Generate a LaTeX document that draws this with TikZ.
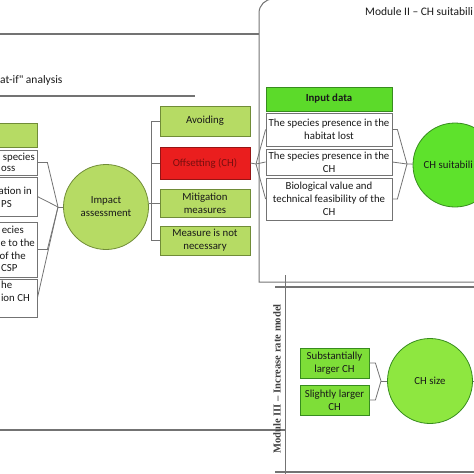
\documentclass[tikz,border=0pt]{standalone}
\usepackage{fontspec}
\setmainfont{Carlito}[Ligatures=TeXOff]
\newfontfamily\serifbf{Liberation Serif}[BoldFont={Liberation Serif Bold}]
\usepackage{tikz}
\usetikzlibrary{positioning,calc}

\definecolor{lineg}{RGB}{115,115,115}
\definecolor{oliv}{RGB}{182,219,100}
\definecolor{olivd}{RGB}{112,140,55}
\definecolor{redbox}{RGB}{234,30,30}
\definecolor{redd}{RGB}{150,20,20}
\definecolor{redtxt}{RGB}{120,15,15}
\definecolor{brightg}{RGB}{92,218,42}
\definecolor{brightgd}{RGB}{55,140,30}
\definecolor{suitg}{RGB}{94,226,44}
\definecolor{sizeg}{RGB}{142,231,64}
\definecolor{midg}{RGB}{126,222,56}

\begin{document}
\begin{tikzpicture}[
  x=1pt,y=-1pt,
  font=\fontsize{10.8}{13}\selectfont,
  line/.style={draw=lineg,line width=0.8pt},
  rule/.style={draw=lineg,line width=1.4pt},
  box/.style={draw,minimum width=90pt,align=center,inner sep=0pt,line width=0.8pt,text=black!90},
  opt/.style={box,fill=oliv,draw=olivd},
  inbox/.style={box,fill=white,draw=lineg,minimum width=126pt},
  leftbox/.style={box,fill=white,draw=lineg,minimum width=47pt},
  frag/.style={anchor=east,inner sep=0pt,text=black!90},
  fragl/.style={anchor=west,inner sep=0pt,text=black!90},
  blob/.style={circle,draw,inner sep=0pt,minimum size=85pt,align=center,line width=0.8pt,text=black!90},
  title/.style={anchor=west,inner sep=0pt,text=black!90,font=\fontsize{11.5}{13}\selectfont},
]
\useasboundingbox (0,0) rectangle (474,474);
\clip (0,0) rectangle (474,474);

% frame lines and module titles
\draw[rule] (0,34) -- (259,34);
\draw[rule] (0,96) -- (195,96);
\node[title] (whatif) at (0,80) {at-if" analysis};
\draw[line,line width=1pt] (490,282) -- (259,282) [rounded corners=14pt] -- (259,-1) -- (490,-1);
\node[title] (modII) at (365,12) {Module II – CH suitabili};
\draw[rule,line width=1.2pt] (275,287) -- (480,287);
\draw[rule,line width=1.2pt] (275,472) -- (480,472);
\draw[line,line width=1pt] (285,275) -- (285,480);
\draw[rule] (0,430) -- (285,430);
\node[rotate=90,inner sep=0pt,font=\serifbf\bfseries\fontsize{10.6}{12}\selectfont,text=black!75] (modIII) at (277,379) {Module III – Increase rate model};

% Module I: input list (cut on the left)
\node[leftbox,fill=oliv,draw=olivd,minimum height=24pt] (hdL) at (13.5,135) {};
\node[leftbox,minimum height=25pt] (lb1) at (13.5,162.5) {};
\node[leftbox,minimum height=39pt] (lb2) at (13.5,196.5) {};
\node[leftbox,minimum height=55pt] (lb3) at (13.5,249.5) {};
\node[leftbox,minimum height=38pt] (lb4) at (13.5,298) {};
\node[frag] (t1a) at (35,158) {species};
\node[fragl] (t1b) at (1,169) {oss};
\node[frag] (t2a) at (32,191) {ation in};
\node[fragl] (t2b) at (1,204) {PS};
\node[frag] (t3a) at (24,230) {ecies};
\node[frag] (t3b) at (35,243) {e to the};
\node[frag] (t3c) at (26,256) {of the};
\node[fragl] (t3d) at (1,268) {CSP};
\node[fragl] (t4a) at (1,285) {he};
\node[frag] (t4b) at (30,298) {ion CH};

% Impact assessment and measures
\node[blob,fill=oliv,draw=olivd] (imp) at (106,207) {Impact\\assessment};
\coordinate (lj) at (58,207);
\draw[line] (lb1.east) -- ++(10,0) -- (lj);
\draw[line] (lb2.east) -- (lj);
\draw[line] (lb3.east) -- ++(10,0) -- (lj);
\draw[line] (lb4.east) -- (lj);
\draw[line] (lj) -- (imp);

\node[opt,minimum height=30pt] (avo) at (205,121) {Avoiding};
\node[opt,fill=redbox,draw=redd,text=redtxt,minimum height=32pt] (off) at (205,163) {Offsetting (CH)};
\node[opt,minimum height=28pt] (mit) at (205,203) {Mitigation\\measures};
\node[opt,minimum height=29pt] (mea) at (205,240.5) {Measure is not\\necessary};
\draw[line] (avo.west) -- ++(-8,0) |- (mea.west);
\draw[line] (off.west) -- ++(-8,0);
\draw[line] (imp.east |- mit.west) -- (mit.west);

% Module II: CH suitability
\node[inbox,fill=brightg,draw=brightgd,minimum height=24pt,font=\fontsize{10.8}{13}\selectfont\bfseries] (inH) at (329,99) {Input data};
\node[inbox,minimum height=33pt] (in1) at (329,129.5) {The species presence in the\\habitat lost};
\node[inbox,minimum height=26pt] (in2) at (329,162) {The species presence in the\\CH};
\node[inbox,minimum height=42pt] (in3) at (329,199) {Biological value and\\technical feasibility of the\\CH};
\coordinate (oj) at (256,164);
\draw[line] (off.east) -- (oj);
\draw[line] (oj) -- (in1.west);
\draw[line] (oj) -- (in2.west);
\draw[line] (oj) -- (in3.west);

\node[blob,fill=suitg,draw=brightgd,minimum size=84pt] (suit) at (455,165) {};
\node[anchor=east,inner sep=0pt,text=black!90] (suitt) at (473,165) {CH suitabili};
\coordinate (ij) at (407,164);
\draw[line] (in1.east) -- ++(5,0) -- (ij);
\draw[line] (in2.east) -- (ij);
\draw[line] (in3.east) -- ++(5,0) -- (ij);
\draw[line] (ij) -- (suit);

% Module III: CH size
\node[box,fill=midg,draw=brightgd,minimum width=69pt,minimum height=30pt] (sub) at (334.5,363) {Substantially\\larger CH};
\node[box,fill=midg,draw=brightgd,minimum width=69pt,minimum height=30pt] (sli) at (334.5,400) {Slightly larger\\CH};
\node[blob,fill=sizeg,draw=brightgd] (size) at (430,381) {CH size};
\coordinate (sj) at (381,381);
\coordinate (szout) at (480,381);
\draw[line] (sub.east) -- ++(6,0) -- (sj);
\draw[line] (sli.east) -- ++(6,0) -- (sj);
\draw[line] (sj) -- (size);
\draw[line] (size) -- (szout);
\end{tikzpicture}
\end{document}
